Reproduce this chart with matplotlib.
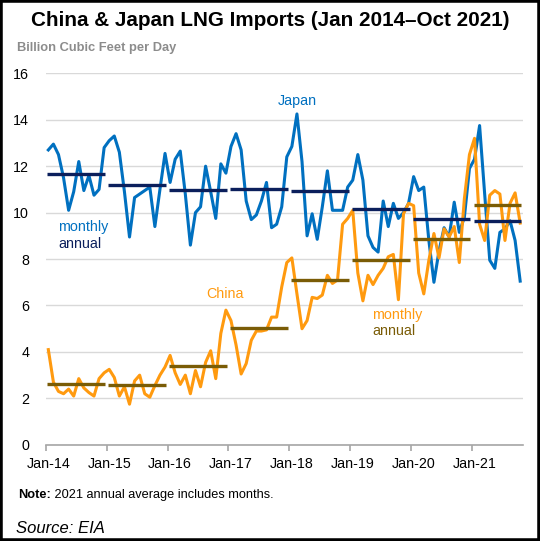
import numpy as np
import matplotlib
matplotlib.use('Agg')
import matplotlib.pyplot as plt
from matplotlib.patches import Rectangle
from matplotlib.transforms import offset_copy

plt.rcParams['font.family'] = ['Liberation Sans', 'DejaVu Sans']

# monthly imports, Jan 2014 - Oct 2021 (Bcf/d)
japan_monthly = [
    12.7, 12.95, 12.5, 11.5, 10.1, 10.9, 12.2, 10.95, 11.6, 10.75, 11.0, 12.8,
    13.1, 13.3, 12.6, 10.9, 8.95, 10.65, 10.8, 10.95, 11.1, 9.4, 11.0, 12.55,
    11.3, 12.3, 12.65, 10.8, 8.6, 10.0, 10.25, 12.0, 10.9, 9.75, 12.1, 11.7,
    12.85, 13.4, 12.7, 10.5, 9.7, 9.9, 10.5, 11.3, 9.35, 9.5, 10.25, 12.4,
    12.85, 14.25, 12.2, 9.0, 9.95, 8.85, 10.25, 11.8, 10.1, 10.1, 10.1, 11.1,
    11.4, 12.5, 11.4, 9.0, 8.5, 8.3, 10.5, 9.4, 10.4, 9.75, 10.0, 10.4,
    11.55, 10.95, 11.1, 8.8, 7.0, 8.35, 9.35, 8.95, 10.45, 9.15, 9.8, 11.9,
    12.3, 13.75, 10.8, 7.95, 7.6, 9.15, 9.3, 9.65, 8.8, 7.05,
]
china_monthly = [
    4.1, 2.7, 2.3, 2.2, 2.4, 2.1, 2.85, 2.45, 2.25, 2.1, 2.85, 3.1,
    3.25, 2.9, 2.1, 2.5, 1.75, 2.75, 3.0, 2.2, 2.05, 2.55, 3.0, 3.35,
    3.85, 3.1, 2.6, 3.0, 2.2, 3.2, 2.5, 3.55, 4.05, 2.85, 4.8, 5.8,
    5.35, 4.3, 3.05, 3.5, 4.5, 4.9, 4.9, 4.95, 5.5, 5.5, 6.8, 7.85,
    8.05, 6.5, 5.0, 5.35, 6.35, 6.3, 6.45, 7.3, 6.95, 7.1, 9.5, 9.75,
    10.1, 7.4, 6.2, 7.3, 6.9, 7.3, 7.6, 8.1, 8.2, 6.25, 9.95, 10.4,
    10.3, 7.4, 6.5, 7.95, 9.1, 8.05, 9.3, 8.95, 9.4, 7.85, 10.6, 12.5,
    13.2, 9.5, 8.8, 10.75, 10.95, 10.8, 8.8, 10.4, 10.85, 9.55,
]

years = [2014, 2015, 2016, 2017, 2018, 2019, 2020, 2021]
months_in_year = [12, 12, 12, 12, 12, 12, 12, 10]
japan_annual = [11.68, 11.2, 10.98, 11.02, 10.92, 10.14, 9.73, 9.66]
china_annual = [2.61, 2.58, 3.41, 5.02, 7.08, 7.98, 8.87, 10.34]

tick_labels = ['Jan-14', 'Jan-15', 'Jan-16', 'Jan-17', 'Jan-18', 'Jan-19', 'Jan-20', 'Jan-21']

JAPAN = '#0070C0'
JAPAN_DARK = '#0B1F5C'
CHINA = '#FF9A0F'
CHINA_DARK = '#7A5C06'

fig = plt.figure(figsize=(5.40, 5.41), dpi=100)
ax = fig.add_axes([0.0848, 0.1778, 0.8832, 0.6867])

x = np.arange(len(japan_monthly))
ax.plot(x, japan_monthly, color=JAPAN, lw=2.2, zorder=3)
ax.plot(x, china_monthly, color=CHINA, lw=2.2, zorder=3)

# annual average bars
start = 0
for yr, n, jv, cv in zip(years, months_in_year, japan_annual, china_annual):
    ax.hlines(jv, start - 0.2, start + n - 1 + 0.2, color=JAPAN_DARK, lw=2.4, zorder=4)
    ax.hlines(cv, start - 0.2, start + n - 1 + 0.2, color=CHINA_DARK, lw=2.4, zorder=4)
    start += n

ax.set_xlim(-0.5, len(x) - 0.5)
ax.set_ylim(0, 16)
ax.set_yticks(range(0, 17, 2))
ax.grid(axis='y', color='#D9D9D9', lw=1)
ax.set_axisbelow(True)
for s in ['top', 'right', 'left']:
    ax.spines[s].set_visible(False)
ax.spines['bottom'].set_color('#A6A6A6')
ax.spines['bottom'].set_linewidth(1.2)

ax.set_xticks([12 * k for k in range(len(tick_labels))])
ax.set_xticklabels(tick_labels, fontsize=10.3)
ax.set_xticks([12 * k - 0.5 for k in range(len(tick_labels))], minor=True)
ax.tick_params(axis='x', which='major', length=0, pad=9)
ax.tick_params(axis='x', which='minor', length=4, color='#A6A6A6', width=1.2)
ax.tick_params(axis='y', length=0, pad=12, labelsize=10.3)

# series labels
ax.text(49.05, 14.8, 'Japan', color=JAPAN, fontsize=10.3, ha='center', va='center')
ax.text(2.0, 9.38, 'monthly', color=JAPAN, fontsize=10.3, ha='left', va='center')
ax.text(2.0, 8.67, 'annual', color=JAPAN_DARK, fontsize=10.3, ha='left', va='center')
ax.text(34.8, 6.49, 'China', color=CHINA, fontsize=10.3, ha='center', va='center')
ax.text(63.9, 5.58, 'monthly', color=CHINA, fontsize=10.3, ha='left', va='center')
ax.text(63.9, 4.91, 'annual', color=CHINA_DARK, fontsize=10.3, ha='left', va='center')

fig.text(0.5, 1 - 21 / 541, 'China & Japan LNG Imports (Jan 2014\u2013Oct 2021)',
         fontsize=14.9, fontweight='bold', ha='center', va='center')
fig.text(17 / 540, 1 - 47.5 / 541, 'Billion Cubic Feet per Day', fontsize=9.3,
         fontweight='bold', color='#8C8C8C', ha='left', va='center')

# note: bold lead-in followed by plain text
note = fig.text(18 / 540, 1 - 494.7 / 541, 'Note:', fontsize=9.2, fontweight='bold',
                ha='left', va='center')
fig.canvas.draw()
w = note.get_window_extent().width
fig.text(18 / 540, 1 - 494.7 / 541, ' 2021 annual average includes months.', fontsize=9.2,
         ha='left', va='center',
         transform=offset_copy(fig.transFigure, fig=fig, x=w * 72 / fig.dpi, units='points'))

fig.text(16.5 / 540, 1 - 528.8 / 541, 'Source: EIA', fontsize=12, style='italic',
         ha='left', va='center')

# black frame around the image
fig.patches.append(Rectangle((0, 0), 1, 1, transform=fig.transFigure, fill=False,
                             edgecolor='black', lw=4, zorder=10))

fig.savefig('out.png', dpi=100)
